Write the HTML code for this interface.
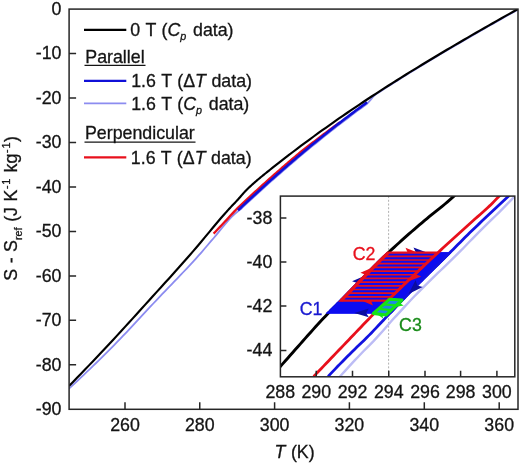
<!DOCTYPE html>
<html><head><meta charset="utf-8"><title>Entropy</title>
<style>
html,body{margin:0;padding:0;background:#fff;}
svg{display:block;}
text{font-family:"Liberation Sans",sans-serif;font-size:17.8px;fill:#141414;stroke:#141414;stroke-width:0.3px;word-spacing:0.6px;}
.i{font-style:italic;}
.s{font-size:10.8px;}
.u{font-size:10.8px;letter-spacing:0.7px;}
</style></head><body>
<svg width="520" height="464" viewBox="0 0 520 464">
<rect width="520" height="464" fill="#fff"/>
<defs>
<clipPath id="mc"><rect x="69.1" y="9.1" width="448.9" height="400.2"/></clipPath>
<clipPath id="ic"><rect x="280.4" y="196.1" width="234.39999999999998" height="180.70000000000002"/></clipPath>
</defs>

<g clip-path="url(#mc)" fill="none" stroke-linecap="butt" stroke-linejoin="round">
<path d="M69.00,388.60 L72.01,385.83 L75.02,383.05 L78.03,380.24 L81.05,377.41 L84.06,374.57 L87.07,371.70 L90.08,368.81 L93.09,365.90 L96.10,362.98 L99.11,360.03 L102.13,357.07 L105.14,354.08 L108.15,351.08 L111.16,348.07 L114.17,345.03 L117.18,341.96 L120.19,338.86 L123.21,335.72 L126.22,332.55 L129.23,329.36 L132.24,326.14 L135.25,322.91 L138.26,319.68 L141.27,316.43 L144.29,313.18 L147.30,309.94 L150.31,306.71 L153.32,303.49 L156.33,300.29 L159.34,297.11 L162.35,293.95 L165.37,290.81 L168.38,287.68 L171.39,284.56 L174.40,281.43 L177.41,278.30 L180.42,275.16 L183.43,272.00 L186.44,268.81 L189.46,265.60 L192.47,262.35 L195.48,259.06 L198.49,255.72 L201.50,252.29 L204.51,248.77 L207.52,245.22 L210.54,241.71 L213.55,238.22 L216.56,234.61 L219.57,230.92 L222.58,227.23 L225.59,223.62 L228.60,220.16 L231.62,216.93 L234.63,214.00 L237.64,211.45 L240.65,209.35 L243.66,206.46 L246.67,203.63 L249.68,200.83 L252.70,198.05 L255.71,195.28 L258.72,192.53 L261.73,189.79 L264.74,187.07 L267.75,184.37 L270.76,181.68 L273.78,179.00 L276.79,176.34 L279.80,173.70 L282.81,171.07 L285.82,168.46 L288.83,165.86 L291.84,163.28 L294.86,160.72 L297.87,158.16 L300.88,155.63 L303.89,153.11 L306.90,150.60 L309.91,148.11 L312.92,145.64 L315.94,143.18 L318.95,140.74 L321.96,138.31 L324.97,135.90 L327.98,133.50 L330.99,131.12 L334.00,128.76 L337.02,126.41 L340.03,124.07 L343.04,121.75 L346.05,119.45 L349.06,117.16 L352.07,114.88 L355.08,112.63 L358.10,110.38 L361.11,108.16 L364.12,105.99 L367.13,103.73 L370.14,100.38 L373.15,96.68 L376.16,94.01 L379.18,92.15 L382.19,90.22 L385.20,88.28 L388.21,86.36 L391.22,84.44 L394.23,82.53 L397.24,80.63 L400.26,78.74 L403.27,76.86 L406.28,74.98 L409.29,73.11 L412.30,71.25 L415.31,69.40 L418.32,67.56 L421.33,65.72 L424.35,63.89 L427.36,62.07 L430.37,60.25 L433.38,58.44 L436.39,56.64 L439.40,54.84 L442.41,53.05 L445.43,51.26 L448.44,49.48 L451.45,47.71 L454.46,45.94 L457.47,44.17 L460.48,42.41 L463.49,40.66 L466.51,38.91 L469.52,37.17 L472.53,35.43 L475.54,33.69 L478.55,31.96 L481.56,30.23 L484.57,28.50 L487.59,26.78 L490.60,25.06 L493.61,23.35 L496.62,21.64 L499.63,19.93 L502.64,18.22 L505.65,16.52 L508.67,14.82 L511.68,13.12 L514.69,11.42 L517.70,9.72" stroke="#8c8cf0" stroke-width="1.8"/>
<path d="M213.60,233.60 L215.20,231.93 L216.80,230.25 L218.40,228.57 L220.00,226.89 L221.60,225.20 L223.20,223.51 L224.80,221.81 L226.40,220.10 L228.00,218.36 L229.60,216.60 L231.20,214.84 L232.80,213.10 L234.40,211.38 L236.00,209.69 L237.60,208.07 L239.20,206.52 L240.80,205.04 L242.40,203.54 L244.00,202.04 L245.60,200.55 L247.20,199.07 L248.80,197.58 L250.40,196.11 L252.00,194.63 L253.60,193.16 L255.20,191.70 L256.80,190.24 L258.40,188.78 L260.00,187.33 L261.60,185.89 L263.20,184.44 L264.80,183.01 L266.40,181.57 L268.00,180.14 L269.60,178.72 L271.20,177.30 L272.80,175.88 L274.40,174.47 L276.00,173.06 L277.60,171.66 L279.20,170.26 L280.80,168.86 L282.40,167.47 L284.00,166.09 L285.60,164.71 L287.20,163.33 L288.80,161.96 L290.40,160.59 L292.00,159.22 L293.60,157.86 L295.20,156.51 L296.80,155.15 L298.40,153.81 L300.00,152.49 L301.60,151.20 L303.20,149.95 L304.80,148.70 L306.40,147.46 L308.00,146.21 L309.60,144.98 L311.20,143.74 L312.80,142.51 L314.40,141.29 L316.00,140.07 L317.60,138.85 L319.20,137.64 L320.80,136.44 L322.40,135.23 L324.00,134.03 L325.60,132.84 L327.20,131.65 L328.80,130.47 L330.40,129.28 L332.00,128.11 L333.60,126.94 L335.20,125.77 L336.80,124.60 L338.40,123.45 L340.00,122.29" stroke="#e8101c" stroke-width="2.3"/>
<path d="M238.00,210.27 L240.19,208.20 L242.38,206.14 L244.56,204.09 L246.75,202.05 L248.94,200.02 L251.13,197.99 L253.32,195.97 L255.51,193.96 L257.69,191.96 L259.88,189.97 L262.07,187.99 L264.26,186.01 L266.45,184.04 L268.63,182.08 L270.82,180.13 L273.01,178.18 L275.20,176.25 L277.39,174.32 L279.57,172.40 L281.76,170.49 L283.95,168.58 L286.14,166.69 L288.33,164.80 L290.52,162.92 L292.70,161.05 L294.89,159.18 L297.08,157.33 L299.27,155.48 L301.46,153.64 L303.64,151.81 L305.83,149.99 L308.02,148.18 L310.21,146.37 L312.40,144.57 L314.58,142.78 L316.77,141.00 L318.96,139.23 L321.15,137.46 L323.34,135.71 L325.53,133.96 L327.71,132.22 L329.90,130.48 L332.09,128.76 L334.28,127.04 L336.47,125.33 L338.65,123.63 L340.84,121.94 L343.03,120.26 L345.22,118.58 L347.41,116.91 L349.59,115.25 L351.78,113.60 L353.97,111.96 L356.16,110.32 L358.35,108.70 L360.54,107.08 L362.72,105.47 L364.91,103.86 L367.10,102.27" stroke="#1010d8" stroke-width="2.6"/>
<path d="M69.00,386.00 L73.00,381.92 L77.00,377.81 L81.00,373.69 L85.00,369.55 L89.00,365.38 L93.00,361.20 L97.00,356.99 L101.00,352.76 L105.00,348.52 L109.00,344.25 L113.00,339.96 L117.00,335.63 L121.00,331.28 L125.00,326.90 L129.00,322.51 L133.00,318.11 L137.00,313.70 L141.00,309.28 L145.00,304.86 L149.00,300.44 L153.00,296.03 L157.00,291.63 L161.00,287.24 L165.00,282.84 L169.00,278.43 L173.00,274.00 L177.00,269.55 L181.00,265.08 L185.00,260.57 L189.00,256.03 L193.00,251.42 L197.00,246.72 L201.00,241.95 L205.00,237.14 L209.00,232.32 L213.00,227.52 L217.00,222.76 L221.00,218.06 L225.00,213.47 L226.00,212.34 L227.00,211.22 L228.00,210.11 L229.00,209.01 L230.00,207.94 L231.00,206.87 L232.00,205.82 L233.00,204.78 L234.00,203.73 L235.00,202.68 L236.00,201.62 L237.00,200.54 L238.00,199.45 L239.00,198.32 L240.00,197.17 L241.00,196.02 L242.00,194.86 L243.00,193.72 L244.00,192.60 L245.00,191.52 L246.00,190.49 L247.00,189.49 L248.00,188.52 L249.00,187.56 L250.00,186.62 L251.00,185.70 L252.00,184.79 L253.00,183.89 L254.00,183.00 L255.00,182.12 L256.00,181.25 L257.00,180.39 L258.00,179.54 L259.00,178.70 L260.00,177.87 L261.00,177.04 L262.00,176.21 L263.00,175.39 L264.00,174.59 L265.00,173.78 L266.00,172.98 L267.00,172.18 L268.00,171.37 L269.00,170.57 L270.00,169.77 L272.00,168.18 L276.16,164.89 L280.33,161.62 L284.49,158.39 L288.66,155.18 L292.82,152.00 L296.99,148.85 L301.15,145.72 L305.32,142.62 L309.48,139.55 L313.64,136.50 L317.81,133.48 L321.97,130.48 L326.14,127.51 L330.30,124.56 L334.47,121.63 L338.63,118.73 L342.79,115.85 L346.96,112.99 L351.12,110.15 L355.29,107.34 L359.45,104.54 L363.62,101.76 L367.78,99.01 L371.95,96.27 L376.11,93.55 L380.27,90.85 L384.44,88.17 L388.60,85.51 L392.77,82.86 L396.93,80.23 L401.10,77.61 L405.26,75.01 L409.43,72.43 L413.59,69.86 L417.75,67.31 L421.92,64.77 L426.08,62.24 L430.25,59.72 L434.41,57.22 L438.58,54.73 L442.74,52.25 L446.91,49.79 L451.07,47.33 L455.23,44.88 L459.40,42.45 L463.56,40.02 L467.73,37.60 L471.89,35.19 L476.06,32.79 L480.22,30.40 L484.38,28.01 L488.55,25.63 L492.71,23.26 L496.88,20.89 L501.04,18.53 L505.21,16.17 L509.37,13.82 L513.54,11.47 L517.70,9.12" stroke="#000" stroke-width="2.15"/>
</g>
<rect x="69.1" y="9.1" width="448.9" height="400.2" fill="none" stroke="#262626" stroke-width="1.5"/>
<path d="M69.1,53.57h7 M69.1,98.03h7 M69.1,142.50h7 M69.1,186.97h7 M69.1,231.43h7 M69.1,275.90h7 M69.1,320.37h7 M69.1,364.83h7 M125,409.3v-7 M199.75,409.3v-7 M274.6,409.3v-7 M349.4,409.3v-7 M424.3,409.3v-7 M499.2,409.3v-7" stroke="#262626" stroke-width="1.5" fill="none"/>
<text transform="translate(61.5,14.90) scale(1.0,1)" text-anchor="end">0</text>
<text transform="translate(61.5,59.37) scale(1.0,1)" text-anchor="end">-10</text>
<text transform="translate(61.5,103.83) scale(1.0,1)" text-anchor="end">-20</text>
<text transform="translate(61.5,148.30) scale(1.0,1)" text-anchor="end">-30</text>
<text transform="translate(61.5,192.77) scale(1.0,1)" text-anchor="end">-40</text>
<text transform="translate(61.5,237.23) scale(1.0,1)" text-anchor="end">-50</text>
<text transform="translate(61.5,281.70) scale(1.0,1)" text-anchor="end">-60</text>
<text transform="translate(61.5,326.17) scale(1.0,1)" text-anchor="end">-70</text>
<text transform="translate(61.5,370.63) scale(1.0,1)" text-anchor="end">-80</text>
<text transform="translate(61.5,415.10) scale(1.0,1)" text-anchor="end">-90</text>
<text transform="translate(125,430.6) scale(1.0,1)" text-anchor="middle">260</text>
<text transform="translate(199.75,430.6) scale(1.0,1)" text-anchor="middle">280</text>
<text transform="translate(274.6,430.6) scale(1.0,1)" text-anchor="middle">300</text>
<text transform="translate(349.4,430.6) scale(1.0,1)" text-anchor="middle">320</text>
<text transform="translate(424.3,430.6) scale(1.0,1)" text-anchor="middle">340</text>
<text transform="translate(499.2,430.6) scale(1.0,1)" text-anchor="middle">360</text>
<text transform="translate(294.6,458.4) scale(1.0,1)" text-anchor="middle"><tspan class="i">T</tspan> (K)</text>
<text transform="translate(17.1,208.35) rotate(-90) scale(1.0,1)" text-anchor="middle">S - S<tspan class="s" dy="5">ref</tspan><tspan dy="-5"> (J K</tspan><tspan class="u" dy="-7.2" dx="0.7">-1</tspan><tspan dy="7.2"> kg</tspan><tspan class="u" dy="-7.2" dx="0.7">-1</tspan><tspan dy="7.2">)</tspan></text>
<path d="M84,29.8H126.3" stroke="#000" stroke-width="2.3" fill="none"/>
<text transform="translate(130.3,36.0) scale(1.0,1)" text-anchor="start">0 T (<tspan class="i">C</tspan><tspan class="i s" dy="4.4">p</tspan><tspan dy="-4.4" dx="1.2"> data)</tspan></text>
<text transform="translate(85.3,62.5) scale(1.0,1)" text-anchor="start">Parallel</text>
<path d="M84.5,65.3H145.5" stroke="#141414" stroke-width="1.3"/>
<path d="M84,80.8H126.3" stroke="#1010d8" stroke-width="2.2" fill="none"/>
<text transform="translate(131.2,86.9) scale(1.0,1)" text-anchor="start">1.6 T (Δ<tspan class="i">T</tspan> data)</text>
<path d="M84,103.3H126.3" stroke="#8c8cf0" stroke-width="1.8" fill="none"/>
<text transform="translate(131.2,109.8) scale(1.0,1)" text-anchor="start">1.6 T (<tspan class="i">C</tspan><tspan class="i s" dy="4.4">p</tspan><tspan dy="-4.4" dx="1.2"> data)</tspan></text>
<text transform="translate(85.0,139.2) scale(1.0,1)" text-anchor="start">Perpendicular</text>
<path d="M84.5,142.1H195.5" stroke="#141414" stroke-width="1.3"/>
<path d="M84,157.3H126.3" stroke="#e8101c" stroke-width="2.2" fill="none"/>
<text transform="translate(130.8,163.7) scale(1.0,1)" text-anchor="start">1.6 T (Δ<tspan class="i">T</tspan> data)</text>
<rect x="280.4" y="196.1" width="234.39999999999998" height="180.70000000000002" fill="#fff"/>
<g clip-path="url(#ic)" fill="none">
<path d="M388.6,196.1V376.8" stroke="#a8a8a8" stroke-width="0.9" stroke-dasharray="2 1.7"/>
<path d="M336.90,380.00 L339.83,376.78 L342.67,373.56 L345.55,370.34 L348.48,367.12 L351.45,363.90 L354.46,360.68 L357.50,357.46 L360.57,354.24 L363.66,351.02 L366.85,347.80 L370.11,344.58 L373.27,341.36 L376.29,338.14 L379.23,334.92 L382.12,331.69 L384.97,328.47 L387.79,325.25 L390.59,322.03 L393.46,318.81 L396.44,315.59 L399.44,312.37 L402.40,309.15 L405.35,305.93 L408.31,302.71 L411.31,299.49 L414.41,296.27 L417.57,293.05 L420.77,289.83 L424.00,286.61 L427.26,283.39 L430.54,280.17 L433.84,276.95 L437.15,273.73 L440.48,270.51 L443.80,267.29 L447.12,264.07 L450.44,260.85 L453.75,257.63 L457.04,254.41 L460.30,251.19 L463.47,247.97 L466.57,244.75 L469.67,241.53 L472.79,238.31 L475.94,235.08 L479.13,231.86 L482.38,228.64 L485.66,225.42 L488.97,222.20 L492.30,218.98 L495.62,215.76 L498.82,212.54 L501.99,209.32 L505.18,206.10 L508.36,202.88 L511.54,199.66 L514.69,196.44 L517.80,193.22 L520.89,190.00" stroke="#bcbcf5" stroke-width="2.4"/>
<path d="M270.00,378.00 L272.53,375.17 L275.06,372.34 L277.59,369.52 L280.13,366.69 L282.66,363.87 L285.19,361.03 L287.72,358.18 L290.25,355.32 L292.78,352.45 L295.32,349.58 L297.85,346.70 L300.38,343.84 L302.91,340.97 L305.44,338.11 L307.97,335.27 L310.51,332.44 L313.04,329.63 L315.57,326.83 L318.10,324.07 L320.63,321.32 L323.16,318.61 L325.70,315.93 L328.23,313.28 L330.76,310.70 L333.29,308.18 L335.82,305.70 L338.35,303.22 L340.89,300.71 L343.42,298.17 L345.95,295.60 L348.48,293.01 L351.01,290.41 L353.54,287.80 L356.08,285.18 L358.61,282.55 L361.14,279.93 L363.67,277.30 L366.20,274.69 L368.73,272.08 L371.27,269.49 L373.80,266.91 L376.33,264.36 L378.86,261.83 L381.39,259.33 L383.92,256.87 L386.46,254.43 L388.99,252.04 L391.52,249.68 L394.05,247.33 L396.58,245.01 L399.11,242.71 L401.65,240.43 L404.18,238.16 L406.71,235.91 L409.24,233.69 L411.77,231.47 L414.30,229.28 L416.84,227.10 L419.37,224.94 L421.90,222.79 L424.43,220.65 L426.96,218.53 L429.49,216.42 L432.03,214.35 L434.56,212.34 L437.09,210.37 L439.62,208.39 L442.15,206.36 L444.68,204.25 L447.22,202.06 L449.75,199.81 L452.28,197.55 L454.81,195.32 L457.34,193.10 L459.87,190.87 L462.41,188.65 L464.94,186.43 L467.47,184.22 L470.00,182.00" stroke="#000" stroke-width="2.9"/>
<path d="M386.49,252.60 L383.72,255.24 L380.99,257.88 L378.29,260.52 L375.63,263.16 L372.99,265.80 L370.38,268.43 L367.80,271.07 L365.23,273.71 L362.67,276.35 L360.12,278.99 L357.58,281.63 L355.04,284.27 L352.50,286.91 L349.95,289.55 L347.39,292.19 L344.81,294.83 L342.21,297.47 L339.59,300.10 L336.94,302.74 L334.25,305.38 L331.55,308.02 L328.89,310.66 L326.31,313.30 L391.28,313.30 L393.76,310.66 L396.22,308.02 L398.68,305.38 L401.14,302.74 L403.62,300.10 L406.13,297.47 L408.67,294.83 L411.24,292.19 L413.84,289.55 L416.47,286.91 L419.11,284.27 L421.76,281.63 L424.43,278.99 L427.12,276.35 L429.81,273.71 L432.50,271.07 L435.20,268.43 L437.90,265.80 L440.60,263.16 L443.29,260.52 L445.97,257.88 L448.64,255.24 L451.30,252.60Z" fill="#0c0cf0" stroke="#0c0cf0" stroke-width="1"/>
<path d="M328.10,376.50 L330.50,373.92 L332.91,371.37 L335.31,368.85 L337.72,366.34 L340.12,363.86 L342.52,361.40 L344.93,358.96 L347.33,356.54 L349.73,354.14 L352.14,351.75 L354.54,349.40 L356.95,347.11 L359.35,344.85 L361.75,342.58 L364.16,340.24 L366.56,337.83 L368.96,335.38 L371.37,332.90 L373.77,330.39 L376.18,327.85 L378.58,325.30 L380.98,322.75 L383.39,320.18 L385.79,317.63 L388.19,315.08 L390.60,312.54 L393.00,309.97 L395.41,307.39 L397.81,304.81 L400.21,302.24 L402.62,299.68 L405.02,297.16 L407.43,294.67 L409.83,292.20 L412.23,289.76 L414.64,287.34 L417.04,284.93 L419.44,282.54 L421.85,280.16 L424.25,277.79 L426.66,275.42 L429.06,273.07 L431.46,270.72 L433.87,268.37 L436.27,266.02 L438.67,263.67 L441.08,261.31 L443.48,258.95 L445.89,256.58 L448.29,254.20 L450.69,251.81 L453.10,249.40 L455.50,246.98 L457.91,244.56 L460.31,242.14 L462.71,239.72 L465.12,237.32 L467.52,234.93 L469.92,232.57 L472.33,230.24 L474.73,227.93 L477.14,225.64 L479.54,223.36 L481.94,221.09 L484.35,218.83 L486.75,216.56 L489.15,214.30 L491.56,212.03 L493.96,209.77 L496.37,207.52 L498.77,205.27 L501.17,203.02 L503.58,200.76 L505.98,198.50 L508.38,196.22 L510.79,193.93 L513.19,191.63 L515.60,189.32 L518.00,187.00" stroke="#1212e0" stroke-width="2.8"/>
</g>
<path d="M427.50,252.70 L413.50,257.95 L416.02,252.70 L413.50,247.45Z" fill="#0c0ca0"/>
<path d="M366.00,275.20 L360.26,289.21 L357.94,283.37 L352.08,281.13Z" fill="#0c0ca0"/>
<path d="M408.50,294.00 L415.69,279.92 L417.27,285.38 L422.70,287.05Z" fill="#0c0ca0"/>
<path d="M354.30,312.90 L368.80,308.60 L366.19,312.90 L368.80,317.20Z" fill="#0c0ca0"/>
<path d="M418.00,252.70 L405.50,257.70 L407.75,252.70 L405.50,247.70Z" fill="#e8101c"/>
<path d="M374.30,266.80 L368.56,280.81 L366.24,274.97 L360.38,272.73Z" fill="#e8101c"/>
<path d="M408.00,281.50 L413.64,268.56 L415.73,274.16 L421.22,276.54Z" fill="#e8101c"/>
<path d="M361.50,300.50 L373.00,295.60 L370.93,300.50 L373.00,305.40Z" fill="#e8101c"/>
<g clip-path="url(#ic)" fill="none">
<path d="M388.39,252.60 L385.74,255.13 L383.12,257.65 L380.53,260.18 L377.98,262.71 L375.45,265.23 L372.95,267.76 L370.47,270.28 L368.01,272.81 L365.55,275.34 L363.11,277.86 L360.68,280.39 L358.24,282.92 L355.81,285.44 L353.37,287.97 L350.93,290.49 L348.47,293.02 L346.00,295.55 L343.51,298.07 L341.00,300.60 L387.38,300.60 L390.02,298.07 L392.66,295.55 L395.29,293.02 L397.93,290.49 L400.56,287.97 L403.20,285.44 L405.84,282.92 L408.49,280.39 L411.14,277.86 L413.80,275.34 L416.46,272.81 L419.13,270.28 L421.80,267.76 L424.48,265.23 L427.16,262.71 L429.85,260.18 L432.55,257.65 L435.26,255.13 L437.98,252.60Z" fill="#0c0cf0" stroke="none"/>
<path d="M384.52,256.29H434.01 M380.73,259.98H430.06 M377.00,263.68H426.13 M373.33,267.37H422.21 M369.71,271.06H418.30 M366.12,274.75H414.41 M362.55,278.45H410.53 M358.99,282.14H406.66 M355.44,285.83H402.80 M351.87,289.52H398.94 M348.28,293.22H395.09 M344.66,296.91H391.23" stroke="#e8101c" stroke-width="1.7"/>
<path d="M313.65,376.50 L316.14,373.90 L318.62,371.30 L321.11,368.70 L323.59,366.10 L326.08,363.50 L328.56,360.91 L331.05,358.31 L333.53,355.72 L336.02,353.13 L338.50,350.54 L340.99,347.95 L343.48,345.36 L345.96,342.77 L348.45,340.18 L350.93,337.59 L353.42,335.00 L355.90,332.40 L358.39,329.79 L360.87,327.18 L363.36,324.57 L365.84,321.98 L368.33,319.41 L370.82,316.87 L373.30,314.35 L375.79,311.87 L378.27,309.42 L380.76,306.99 L383.24,304.58 L385.73,302.18 L388.21,299.80 L390.70,297.42 L393.18,295.04 L395.67,292.66 L398.16,290.27 L400.64,287.89 L403.13,285.52 L405.61,283.14 L408.10,280.77 L410.58,278.40 L413.07,276.03 L415.55,273.67 L418.04,271.31 L420.52,268.96 L423.01,266.61 L425.49,264.27 L427.98,261.94 L430.47,259.60 L432.95,257.28 L435.44,254.96 L437.92,252.65 L440.41,250.35 L442.89,248.05 L445.38,245.77 L447.86,243.49 L450.35,241.21 L452.83,238.95 L455.32,236.69 L457.81,234.43 L460.29,232.18 L462.78,229.93 L465.26,227.68 L467.75,225.43 L470.23,223.19 L472.72,220.97 L475.20,218.78 L477.69,216.61 L480.17,214.43 L482.66,212.24 L485.15,210.01 L487.63,207.73 L490.12,205.39 L492.60,202.92 L495.09,200.37 L497.57,197.82 L500.06,195.37 L502.54,192.97 L505.03,190.60 L507.51,188.28 L510.00,186.00" stroke="#e8101c" stroke-width="2.8"/>
<path d="M388.39,252.60 L385.74,255.13 L383.12,257.65 L380.53,260.18 L377.98,262.71 L375.45,265.23 L372.95,267.76 L370.47,270.28 L368.01,272.81 L365.55,275.34 L363.11,277.86 L360.68,280.39 L358.24,282.92 L355.81,285.44 L353.37,287.97 L350.93,290.49 L348.47,293.02 L346.00,295.55 L343.51,298.07 L341.00,300.60 L387.38,300.60 L390.02,298.07 L392.66,295.55 L395.29,293.02 L397.93,290.49 L400.56,287.97 L403.20,285.44 L405.84,282.92 L408.49,280.39 L411.14,277.86 L413.80,275.34 L416.46,272.81 L419.13,270.28 L421.80,267.76 L424.48,265.23 L427.16,262.71 L429.85,260.18 L432.55,257.65 L435.26,255.13 L437.98,252.60Z" stroke="#e8101c" stroke-width="2.4" stroke-linejoin="miter"/>
<path d="M388.39,252.60 L385.74,255.13 L383.12,257.65 L380.53,260.18 L377.98,262.71 L375.45,265.23 L372.95,267.76 L370.47,270.28 L368.01,272.81 L365.55,275.34 L363.11,277.86 L360.68,280.39 L358.24,282.92 L355.81,285.44 L353.37,287.97 L350.93,290.49 L348.47,293.02 L346.00,295.55 L343.51,298.07 L341.00,300.60" stroke="#e8101c" stroke-width="3.3"/>
</g>
<path d="M396.50,306.80 L397.74,299.55 L399.98,303.32 L403.75,305.56Z" fill="#14e414"/>
<path d="M377.50,314.40 L383.78,311.44 L382.40,314.83 L383.17,318.41Z" fill="#14e414"/>
<path d="M373.30,313.40 L389.80,299.20 L402.00,300.00 L386.00,315.00Z" fill="#1e8ce0" stroke="none"/>
<path d="M383.86,304.31L396.24,305.40 M378.58,308.86L391.12,310.20" stroke="#14e414" stroke-width="2.3" fill="none"/>
<path d="M373.30,313.40 L389.80,299.20 L402.00,300.00 L386.00,315.00Z" stroke="#14e414" stroke-width="3.1" fill="none" stroke-linejoin="round"/>
<rect x="280.4" y="196.1" width="234.39999999999998" height="180.70000000000002" fill="none" stroke="#262626" stroke-width="1.5"/>
<path d="M280.4,218h6 M280.4,261.9h6 M280.4,306.1h6 M280.4,350.4h6 M316.25,376.8v-6 M352.5,376.8v-6 M388.75,376.8v-6 M425,376.8v-6 M460.6,376.8v-6 M496.9,376.8v-6" stroke="#262626" stroke-width="1.5" fill="none"/>
<text transform="translate(272.3,223.8) scale(1.0,1)" text-anchor="end">-38</text>
<text transform="translate(272.3,267.7) scale(1.0,1)" text-anchor="end">-40</text>
<text transform="translate(272.3,311.90000000000003) scale(1.0,1)" text-anchor="end">-42</text>
<text transform="translate(272.3,356.2) scale(1.0,1)" text-anchor="end">-44</text>
<text transform="translate(280.3,398.3) scale(1.0,1)" text-anchor="middle">288</text>
<text transform="translate(316.25,398.3) scale(1.0,1)" text-anchor="middle">290</text>
<text transform="translate(352.5,398.3) scale(1.0,1)" text-anchor="middle">292</text>
<text transform="translate(388.75,398.3) scale(1.0,1)" text-anchor="middle">294</text>
<text transform="translate(425,398.3) scale(1.0,1)" text-anchor="middle">296</text>
<text transform="translate(460.6,398.3) scale(1.0,1)" text-anchor="middle">298</text>
<text transform="translate(496.9,398.3) scale(1.0,1)" text-anchor="middle">300</text>
<text transform="translate(352.7,259.7) scale(1.0,1)" text-anchor="start" style="fill:#e8101c;stroke:#e8101c">C2</text>
<text transform="translate(299.7,315.4) scale(1.0,1)" text-anchor="start" style="fill:#1a1ad0;stroke:#1a1ad0">C1</text>
<text transform="translate(399.1,330.5) scale(1.0,1)" text-anchor="start" style="fill:#1a8c1a;stroke:#1a8c1a">C3</text>
</svg></body></html>
